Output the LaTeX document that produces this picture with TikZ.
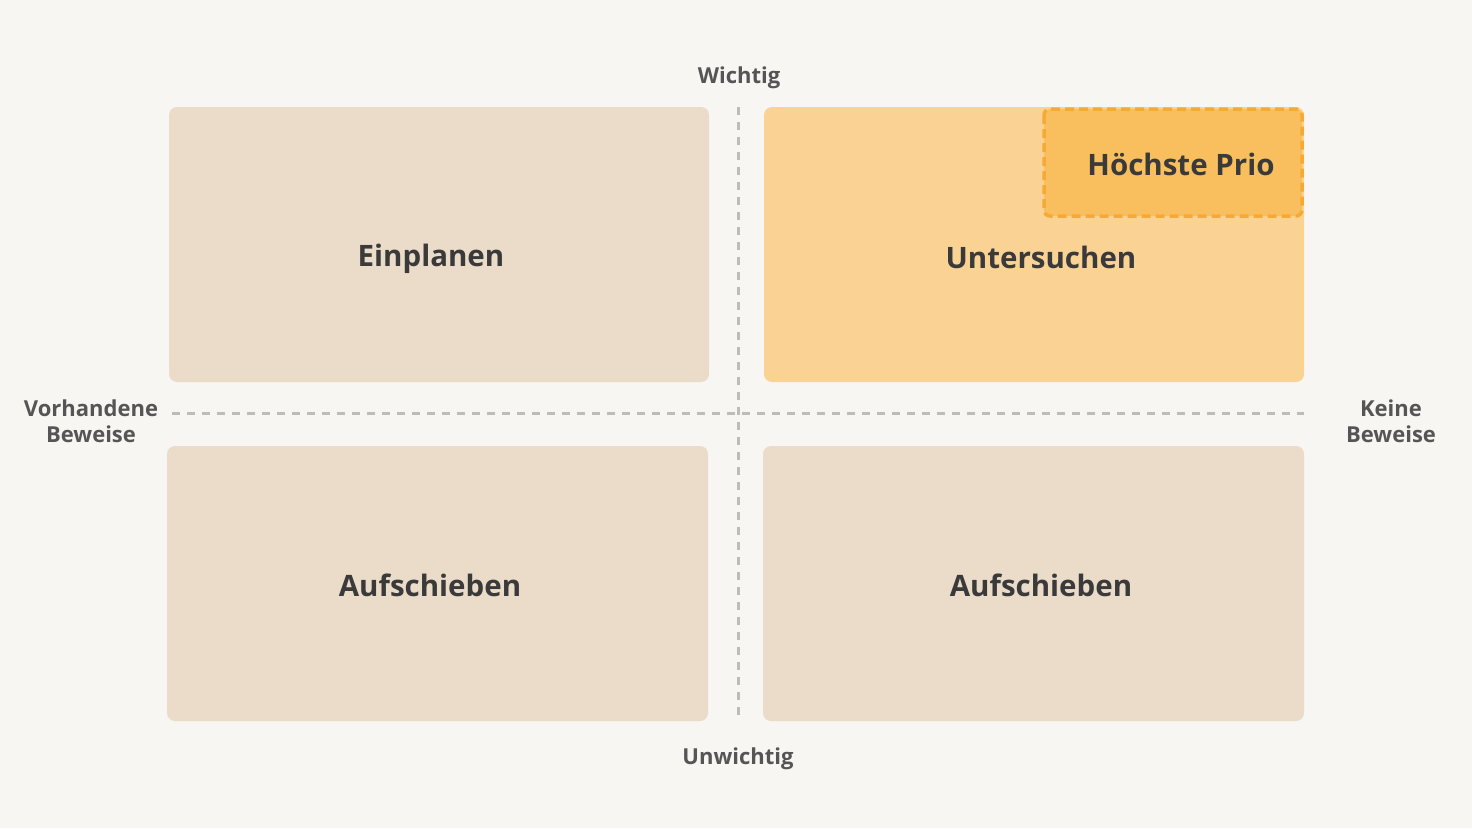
\documentclass[tikz,border=0pt]{standalone}
\usepackage{fontspec}
\setmainfont{Open Sans}
\definecolor{bg}{HTML}{F7F6F2}
\definecolor{tan}{HTML}{EBDCC9}
\definecolor{peach}{HTML}{FAD394}
\definecolor{prio}{HTML}{F9BF5F}
\definecolor{prioedge}{HTML}{F7AA33}
\definecolor{axis}{HTML}{BDBCBA}
\definecolor{big}{HTML}{3A3A3A}
\definecolor{small}{HTML}{555555}
\tikzset{
  quad/.style={fill=tan, rounded corners=8pt, draw=none},
  bigtxt/.style={text=big, font=\fontsize{29.5}{35}\selectfont\bfseries},
  smalltxt/.style={text=small, font=\fontsize{22}{26.5}\selectfont\bfseries, align=center},
  axisline/.style={draw=axis, line width=3pt, dash pattern=on 8pt off 7pt},
}
\begin{document}
\begin{tikzpicture}[x=1pt,y=-1pt]
\path[fill=bg] (0,0) rectangle (1472,828);
\useasboundingbox (0,0) rectangle (1472,828);
\fill[quad] (169,107) rectangle (709,382);
\fill[quad, fill=peach] (764,107) rectangle (1304,382);
\fill[quad] (167,446) rectangle (708,721);
\fill[quad] (763,446) rectangle (1304,721);
\draw[fill=prio, draw=prioedge, line width=3.5pt, dash pattern=on 9pt off 5pt, rounded corners=6pt] (1044,109) rectangle (1302,216);
\coordinate (vt) at (738,107);
\coordinate (vb) at (738,721);
\coordinate (hl) at (172,413);
\coordinate (hr) at (1304,413);
\draw[axisline] (vt) -- (vb);
\draw[axisline] (hl) -- (hr);
\node[bigtxt] (einplanen) at (431,259) {Einplanen};
\node[bigtxt] (untersuchen) at (1041,257) {Untersuchen};
\node[bigtxt] (aufl) at (430,585) {Aufschieben};
\node[bigtxt] (aufr) at (1041,585) {Aufschieben};
\node[bigtxt] (prio) at (1181,164) {Höchste Prio};
\node[smalltxt] (wichtig) at (739,78) {Wichtig};
\node[smalltxt] (unwichtig) at (738,759) {Unwichtig};
\node[smalltxt] (vorh) at (91,421) {Vorhandene\\Beweise};
\node[smalltxt] (keine) at (1391,421) {Keine\\Beweise};
\end{tikzpicture}
\end{document}
